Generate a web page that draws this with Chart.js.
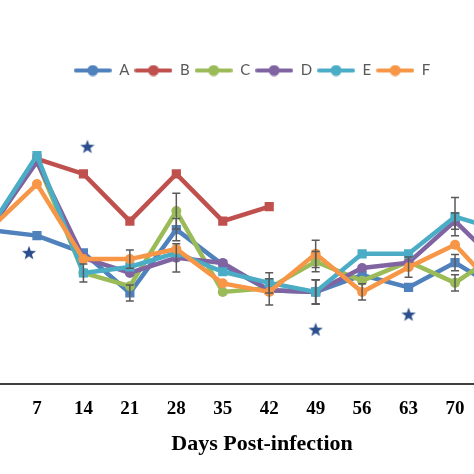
<!DOCTYPE html>
<html>
<head>
<meta charset="utf-8">
<script src="https://cdn.jsdelivr.net/npm/chart.js@4.4.1/dist/chart.umd.min.js"></script>
<style>
  html, body { margin: 0; padding: 0; background: #fff; }
</style>
</head>
<body>
<canvas id="myChart" width="474" height="474"></canvas>
<script>
// days post-infection, day 0 and day 77 sit just outside the visible area
const days = [0, 7, 14, 21, 28, 35, 42, 49, 56, 63, 70, 77];
const dayTicks = [7, 14, 21, 28, 35, 42, 49, 56, 63, 70];
const seriesNames = ['A', 'B', 'C', 'D', 'E', 'F'];
const seriesColors = ['#4F81BD', '#C0504D', '#9BBB59', '#8064A2', '#4BACC6', '#F79646'];
const seriesMarkers = ['rect', 'rect', 'circle', 'circle', 'rect', 'circle'];

const seriesA = [6.10, 5.88, 5.20, 3.61, 6.12, 4.72, 3.72, 3.65, 4.32, 3.83, 4.81, 3.70];
const seriesB = [null, 8.92, 8.32, 6.45, 8.32, 6.45, 7.03, null, null, null, null, null];
const seriesC = [6.16, 8.84, 4.40, 3.88, 6.85, 3.65, 3.80, 4.85, 4.09, 4.85, 4.01, 5.26];
const seriesD = [6.18, 8.80, 5.00, 4.40, 5.00, 4.80, 3.72, 3.65, 4.60, 4.81, 6.45, 4.66];
const seriesE = [6.22, 9.05, 4.40, 4.64, 5.20, 4.45, 4.01, 3.65, 5.16, 5.16, 6.63, 6.07];
const seriesF = [6.16, 7.92, 4.95, 4.95, 5.35, 3.99, 3.65, 5.16, 3.65, 4.63, 5.52, 3.56];

// error (+/-) per point, 0 = no bar drawn
const errA = [0, 0, 0, 0.32, 0.44, 0, 0, 0.48, 0, 0, 0.32, 0];
const errB = [0, 0, 0, 0, 0, 0, 0, 0, 0, 0, 0, 0];
const errC = [0, 0, 0, 0, 0.71, 0, 0, 0.40, 0, 0, 0.32, 0];
const errD = [0, 0, 0, 0, 0.56, 0, 0, 0.48, 0, 0, 0.32, 0];
const errE = [0, 0, 0.36, 0, 0, 0, 0.40, 0.48, 0, 0, 0.76, 0];
const errF = [0, 0, 0, 0.36, 0, 0, 0.52, 0.54, 0.32, 0.40, 0, 0];

// significance stars
const starDays = [5.8, 14.6, 49, 63];
const starValues = [5.2, 9.4, 2.16, 2.76];

const allSeries = [seriesA, seriesB, seriesC, seriesD, seriesE, seriesF];
const allErr = [errA, errB, errC, errD, errE, errF];

function makeStar(color) {
    const c = document.createElement('canvas');
    c.width = 16; c.height = 16;
    const g = c.getContext('2d');
    g.fillStyle = color;
    g.beginPath();
    for (let i = 0; i < 10; i++) {
        const r = i % 2 == 0 ? 7.5 : 3.1;
        const a = -Math.PI / 2 + i * Math.PI / 5;
        const px = 8 + r * Math.cos(a), py = 8.5 + r * Math.sin(a);
        if (i == 0) g.moveTo(px, py); else g.lineTo(px, py);
    }
    g.closePath();
    g.fill();
    return c;
}

function makeLegendIcon(color) {
    const c = document.createElement('canvas');
    c.width = 38; c.height = 12;
    const g = c.getContext('2d');
    g.strokeStyle = color;
    g.lineWidth = 4;
    g.lineCap = 'round';
    g.beginPath();
    g.moveTo(2, 6); g.lineTo(36, 6);
    g.stroke();
    g.fillStyle = color;
    g.beginPath();
    g.arc(19, 6, 5.5, 0, Math.PI * 2);
    g.fill();
    return c;
}

const legendIcons = seriesColors.map(makeLegendIcon);

const datasets = allSeries.map(function(vals, i) {
    return {
        label: seriesNames[i],
        data: days.map((d, k) => ({x: d, y: vals[k]})),
        borderColor: seriesColors[i],
        backgroundColor: seriesColors[i],
        borderWidth: 4.5,
        pointStyle: seriesMarkers[i],
        pointRadius: seriesMarkers[i] == 'rect' ? 6.5 : 5,
        pointBorderWidth: 0,
        tension: 0,
        spanGaps: false,
        order: 6 - i,
        errors: allErr[i]
    };
});
datasets.push({
    type: 'scatter',
    label: 'stars',
    data: starDays.map((d, k) => ({x: d, y: starValues[k]})),
    pointStyle: makeStar('#2B4E8C'),
    showLine: false,
    order: -1
});

const errorBars = {
    id: 'errorBars',
    afterDatasetsDraw(chart) {
        const ctx = chart.ctx;
        const xs = chart.scales.x, ys = chart.scales.y;
        const area = chart.chartArea;
        ctx.save();
        ctx.beginPath();
        ctx.rect(area.left, area.top, area.right - area.left, area.bottom - area.top);
        ctx.clip();
        ctx.strokeStyle = '#5a5a5a';
        ctx.lineWidth = 1.5;
        chart.data.datasets.forEach(function(ds) {
            if (!ds.errors) return;
            ds.data.forEach(function(p, k) {
                const e = ds.errors[k];
                if (!e || p.y == null) return;
                const x = xs.getPixelForValue(p.x);
                const y1 = ys.getPixelForValue(p.y + e);
                const y2 = ys.getPixelForValue(p.y - e);
                ctx.beginPath();
                ctx.moveTo(x, y1); ctx.lineTo(x, y2);
                ctx.moveTo(x - 4, y1); ctx.lineTo(x + 4, y1);
                ctx.moveTo(x - 4, y2); ctx.lineTo(x + 4, y2);
                ctx.stroke();
            });
        });
        ctx.restore();
    }
};

// legend sits a bit right of centre, axis title too (left part of the figure is cut off)
const shiftStuff = {
    id: 'shiftStuff',
    beforeDraw(chart) {
        const lg = chart.legend;
        lg.left = 15;
        lg.right = chart.width + 15;
    },
    afterDraw(chart) {
        const ctx = chart.ctx;
        ctx.save();
        ctx.font = 'bold 22px "Liberation Serif"';
        ctx.fillStyle = '#000';
        ctx.textAlign = 'center';
        ctx.textBaseline = 'middle';
        ctx.fillText('Days Post-infection', 262, 444);
        ctx.restore();
    }
};

const myChart = new Chart('myChart', {
    type: 'line',
    data: { datasets: datasets },
    plugins: [errorBars, shiftStuff],
    options: {
        responsive: false,
        animation: false,
        layout: { autoPadding: false, padding: { top: 58, left: 0, right: 0, bottom: 41 } },
        scales: {
            x: {
                type: 'linear',
                min: 1.43,
                max: 72.86,
                afterBuildTicks: function(scale) {
                    scale.ticks = dayTicks.map(v => ({value: v}));
                },
                afterFit: function(scale) {
                    scale.paddingLeft = 0;
                    scale.paddingRight = 0;
                },
                grid: { display: false, drawTicks: false },
                border: { display: true, color: '#3f3f3f', width: 2 },
                ticks: {
                    padding: 13,
                    color: '#000',
                    maxRotation: 0,
                    autoSkip: false,
                    font: { family: '"Liberation Serif"', size: 19, weight: 'bold' }
                }
            },
            y: {
                display: false,
                min: 0,
                max: 11.72
            }
        },
        plugins: {
            tooltip: { enabled: false },
            legend: {
                position: 'top',
                labels: {
                    usePointStyle: true,
                    pointStyleWidth: 38,
                    padding: 5,
                    color: '#595959',
                    font: { family: 'Lato', size: 15 },
                    generateLabels: function() {
                        return seriesNames.map((n, i) => ({
                            text: n,
                            fillStyle: seriesColors[i],
                            strokeStyle: seriesColors[i],
                            lineWidth: 0,
                            pointStyle: legendIcons[i],
                            fontColor: '#595959',
                            hidden: false,
                            datasetIndex: i
                        }));
                    }
                }
            }
        }
    }
});
</script>
</body>
</html>
